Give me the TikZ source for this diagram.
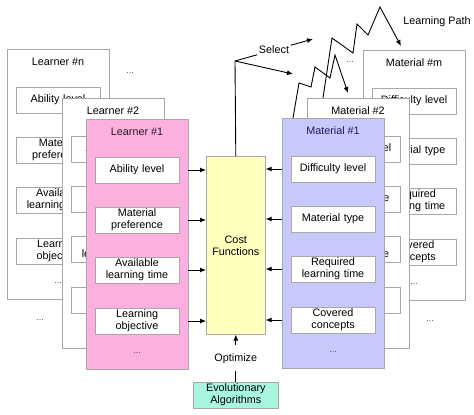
\documentclass[tikz,border=0pt]{standalone}
\usepackage{fontspec}
\setmainfont{Liberation Sans}
\usetikzlibrary{arrows.meta,calc}
\definecolor{pinkf}{HTML}{FBB0DD}
\definecolor{lavf}{HTML}{C8C8FA}
\definecolor{yelf}{HTML}{FFFFBE}
\definecolor{aquaf}{HTML}{A8F6E0}
\definecolor{edgegray}{HTML}{A8A8A8}
\definecolor{navy}{HTML}{1A1A60}
\definecolor{dark}{HTML}{2A1A2A}
\tikzset{
  card/.style={draw=edgegray, line width=0.6pt, minimum width=101.5pt, minimum height=249.5pt, inner sep=0pt},
  cardtitle/.style={font=\fontsize{10.8}{12}\selectfont, inner sep=0pt},
  itembox/.style={draw=edgegray, line width=0.6pt, fill=white, minimum width=84pt, minimum height=26pt, text width=82pt, align=center, inner sep=0pt, font=\fontsize{10.8}{12}\selectfont},
  dotsn/.style={font=\fontsize{9}{10}\selectfont, text=black!70, inner sep=0pt},
  arr/.style={line width=0.9pt, -{Latex[length=6pt,width=5pt]}},
  plainline/.style={line width=0.9pt},
  centerbox/.style={draw=edgegray, line width=0.6pt, align=center, inner sep=0pt, font=\fontsize{10.8}{12}\selectfont},
  lbl/.style={font=\fontsize{10.8}{12}\selectfont, inner sep=1.5pt}
}
\newcommand{\mkcard}[6]{%
  \node[card, fill=#4, anchor=north west] (#1) at (#2,#3) {};
  \node[cardtitle, text=#6] (#1t) at ([yshift=-13pt]#1.north) {#5};
}
\newcommand{\mkitems}[5]{%
  \node[itembox] (#1a) at ([yshift=-51pt]#1.north) {#2};
  \node[itembox] (#1b) at ([yshift=-101pt]#1.north) {#3};
  \node[itembox] (#1c) at ([yshift=-151pt]#1.north) {#4};
  \node[itembox] (#1e) at ([yshift=-202pt]#1.north) {#5};
  \node[dotsn] (#1d) at ([yshift=-234pt]#1.north) {...};
}
\begin{document}
\begin{tikzpicture}[x=1pt,y=-1pt]
\useasboundingbox (0,0) rectangle (474,415);

% learners
\mkcard{ln}{7}{49}{white}{Learner \#n}{black}
\mkitems{ln}{Ability level}{Material\\preference}{Available\\learning time}{Learning\\objective}
\mkcard{ltwo}{62}{98}{white}{Learner \#2}{black}
\mkitems{ltwo}{Ability level}{Material\\preference}{Available\\learning time}{Learning\\objective}
\mkcard{lone}{86}{119}{pinkf}{Learner \#1}{dark}
\mkitems{lone}{Ability level}{Material\\preference}{Available\\learning time}{Learning\\objective}
\node[dotsn] (ldots1) at (130,73) {...};
\node[dotsn] (ldots2) at (40,320) {...};

% materials
\mkcard{mm}{363}{50}{white}{Material \#m}{black}
\mkitems{mm}{Difficulty level}{Material type}{Required\\learning time}{Covered\\concepts}
\mkcard{mtwo}{307}{98}{white}{Material \#2}{black}
\mkitems{mtwo}{Difficulty level}{Material type}{Required\\learning time}{Covered\\concepts}
\mkcard{mone}{282}{118}{lavf}{Material \#1}{navy}
\mkitems{mone}{Difficulty level}{Material type}{Required\\learning time}{Covered\\concepts}
\node[dotsn] (mdots1) at (350,62) {...};
\node[dotsn] (mdots2) at (430,321) {...};

% cost functions
\node[centerbox, fill=yelf, minimum width=59pt, minimum height=178pt, anchor=north west] (cost) at (206,156) {Cost\\Functions};
\node[centerbox, fill=aquaf, minimum width=85pt, minimum height=25.5pt, anchor=north west] (evo) at (193,382) {Evolutionary\\Algorithms};

% arrows into cost
\foreach \s in {a,b,c,e}{
  \draw[arr] (lone\s.east -| lone.east) -- (lone\s.east -| cost.west);
  \draw[arr] (mone\s.west -| mone.west) -- (mone\s.west -| cost.east);
}

% optimize
\draw[arr] (evo.north) -- node[lbl, fill=white, inner ysep=8pt] (opt) {Optimize} (cost.south);

% select
\coordinate (sel) at (235,61);
\coordinate (selA) at (313,39);
\coordinate (selB) at (293,74);
\draw[plainline] (cost.north) -- (sel);
\draw[arr] (sel) -- node[lbl, fill=white, pos=0.5] (selt) {Select} (selA);
\draw[arr] (sel) -- (selB);

% learning path zigzags
\coordinate (pa) at (348,93);
\coordinate (pb) at (401,46);
\draw[arr, line join=miter] ([xshift=11pt]mone.north west) -- (299,83) -- (311,87) -- (315,67) -- (330,78) -- (335,55) -- (pa);
\draw[arr, line join=miter] ([xshift=16pt]mtwo.north west) -- (332,38) -- (353,53) -- (357,24) -- (368,35) -- (380,7) -- (pb);
\node[lbl] (lp) at (437,22) {Learning Path};
\end{tikzpicture}
\end{document}
